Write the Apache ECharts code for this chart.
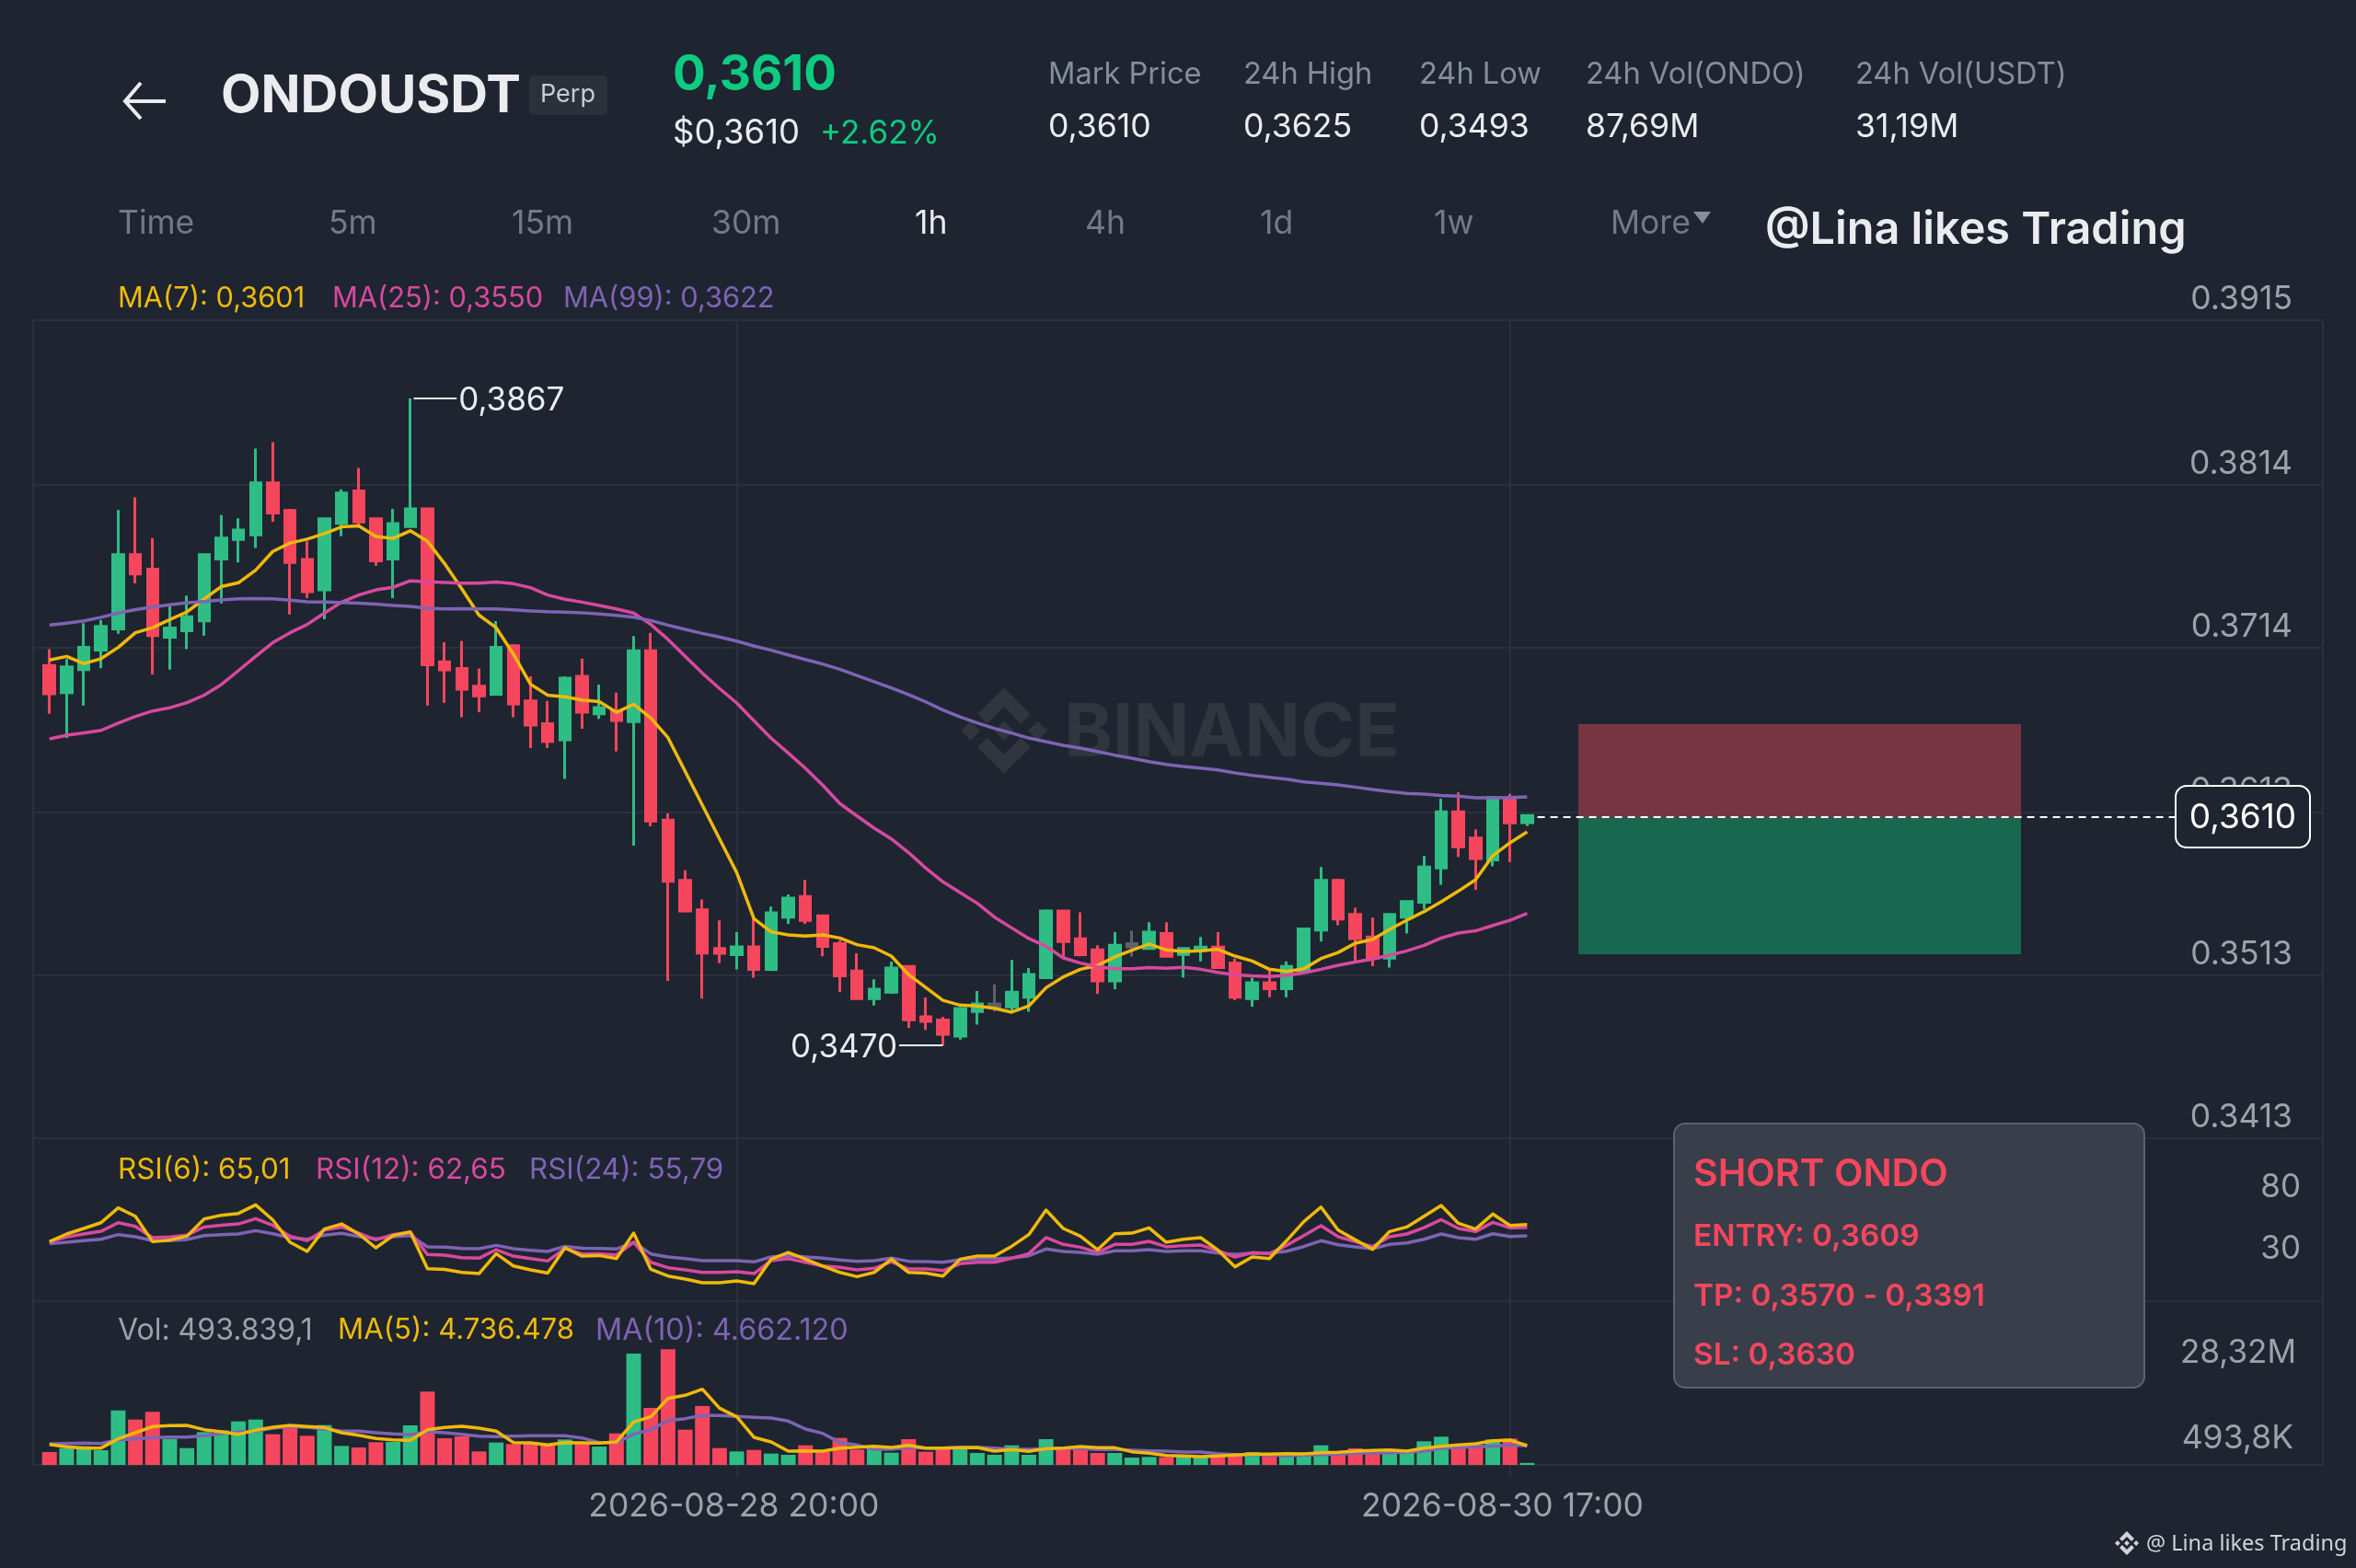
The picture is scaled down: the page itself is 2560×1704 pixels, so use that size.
<!DOCTYPE html>
<html>
<head>
<meta charset="utf-8">
<style>html,body{margin:0;padding:0;background:#1e2530}#c{width:2560px;height:1704px}</style>
<script src="https://cdn.jsdelivr.net/npm/echarts@6/dist/echarts.min.js"></script>
</head>
<body>
<div id="c"></div>
<script>
// [open, close, low, high]
const candles = [
[.37031,.36857,.36734,.37131],[.36865,.37023,.36587,.37071],[.37006,.37142,.36785,.37291],[.37125,.37271,.37014,.37311],
[.37255,.37712,.37226,.37985],[.37712,.37593,.37535,.38063],[.37622,.37214,.36976,.37813],[.37204,.37261,.37006,.37394],
[.37244,.37331,.37131,.3746],[.37305,.37712,.37214,.3772],[.37684,.37813,.37412,.37954],[.37805,.37862,.37664,.37934],
[.37833,.38152,.37753,.38362],[.38152,.37967,.37914,.38402],[.37983,.37664,.37345,.37993],[.37682,.37484,.37444,.37793],
[.37495,.37932,.37315,.37932],[.37904,.3809,.37825,.38112],[.38102,.37912,.37888,.38243],[.37932,.37674,.37644,.37932],
[.37684,.37902,.37444,.37993],[.37884,.37993,.37884,.3867],[.37993,.37035,.36785,.37993],[.37053,.37004,.36803,.37174],
[.37012,.36885,.36714,.37182],[.36904,.36845,.36744,.37012],[.36855,.37142,.36855,.37303],[.37152,.36795,.36714,.37162],
[.36813,.36666,.36524,.36964],[.36674,.36565,.36524,.36813],[.36575,.36954,.36335,.36964],[.36964,.36744,.36643,.37073],
[.36734,.36772,.36704,.36914],[.36752,.36694,.36504,.36865],[.36686,.37121,.35925,.37212],[.37121,.36077,.36044,.37232],
[.36082,.35707,.35096,.36123],[.35713,.35525,.35515,.35775],[.35532,.35267,.34987,.35596],[.35295,.35265,.35205,.35467],
[.35256,.35305,.35166,.35395],[.35305,.35166,.35115,.35478],[.35166,.35514,.35156,.35551],[.35487,.35604,.35446,.35627],
[.35613,.35467,.35446,.35715],[.35495,.35307,.35246,.35495],[.35325,.35126,.35026,.35344],[.35156,.34987,.34987,.35265],
[.34987,.35045,.34945,.35105],[.35026,.35175,.35017,.35214],[.35184,.34857,.34806,.35184],[.34876,.34847,.34795,.34994],
[.34855,.34768,.3470,.34876],[.34757,.34926,.34736,.34936],[.34908,.34955,.34827,.35034],[.34938,.34955,.34908,.35075],
[.34936,.35026,.34915,.35224],[.34996,.35135,.34906,.35175],[.35115,.35525,.35107,.35535],[.35525,.35337,.35239,.35525],
[.35354,.35256,.35247,.35516],[.35286,.35096,.35017,.35314],[.35096,.35314,.35045,.35395],[.35305,.35324,.35245,.35405],
[.35295,.35395,.35295,.35455],[.35386,.35247,.35247,.35455],[.35258,.35294,.35117,.35294],[.35284,.35303,.35216,.35365],
[.35303,.35177,.35177,.35395],[.35205,.34996,.34977,.35233],[.34987,.35085,.34938,.35115],[.35085,.35047,.34996,.35158],
[.35047,.35184,.34996,.35215],[.35156,.35414,.35156,.35414],[.35407,.35713,.35337,.35794],[.35713,.35476,.35437,.35723],
[.35504,.35356,.35215,.35544],[.35365,.35235,.35186,.35484],[.35235,.35504,.35177,.35504],[.35486,.35583,.35386,.35583],
[.35578,.35794,.35535,.35864],[.35789,.36133,.35685,.36214],[.36133,.35918,.35856,.36253],[.35972,.35847,.35655,.36024],
[.35838,.36221,.35798,.3623],[.36214,.36065,.35826,.36244],[.36067,.3611,.36046,.3611]];
const grayCandles = [55,63];

const ma7 = [.37065,.37087,.37043,.37073,.37142,.37232,.37263,.37313,.3736,.3744,.37515,.37539,.37616,.37731,.37783,.37807,.37841,.37882,.37888,.37823,.37811,.37858,.37793,.37656,.37501,.3734,.37263,.37101,.36916,.36849,.36839,.36819,.36809,.36744,.36793,.36708,
.36588,.36381,.36174,.35967,.3576,.35478,.35397,.35378,.35371,.35378,.35359,.35318,.35299,.35248,.35134,.35055,.34976,.34947,.34942,.34928,.34904,.34942,
.35054,.3512,.35167,.3519,.35243,.35284,.35322,.35286,.35276,.3528,.3529,.35248,.35218,.35167,.35154,.35171,.35233,.3527,.35327,.3535,.35412,.35468,.35521,.35581,.35647,.35717,.35864,.35943,.3601];
const ma25 = [.36581,.36603,.36617,.36633,.36678,.36718,.36752,.36772,.36803,.36849,.36914,.37,.37087,.37172,.37232,.37283,.37353,.3742,.37464,.37495,.37511,.37551,.37545,.37541,.37537,.37537,.37543,.37533,.37509,.37464,.37438,.3742,.374,.37378,.37353,.37283,
.37191,.37087,.36984,.3689,.36801,.36692,.36585,.36494,.364,.36297,.36184,.36108,.36033,.35967,.35883,.35788,.35704,.35638,.35572,.35487,.35421,.35356,
.35308,.35237,.35205,.35182,.35171,.35171,.35177,.35173,.35179,.35167,.35148,.35133,.35126,.35122,.3513,.35145,.35167,.35192,.35211,.3523,.35254,.3528,.35314,.35359,.35389,.35403,.35436,.35468,.3551];
const ma99 = [.37279,.37291,.37305,.37327,.37353,.37374,.3739,.37404,.37416,.37424,.37434,.3744,.37442,.3744,.37432,.37422,.3742,.37418,.37414,.37408,.374,.37394,.37382,.37378,.3738,.37378,.37378,.37372,.37366,.37361,.37359,.37355,.37347,.37339,.37327,.37307,
.37279,.37253,.37228,.37206,.37181,.37151,.37125,.37096,.37068,.3704,.37008,.3697,.36931,.36893,.36852,.36808,.36758,.36716,.36679,.36645,.36617,.36586,
.36564,.36541,.36524,.36503,.36481,.36462,.36441,.36424,.36411,.36402,.3639,.36372,.36357,.36345,.36334,.36317,.36308,.36298,.36285,.3627,.36257,.36246,.36242,.36234,.36229,.36219,.36219,.36221,.36225];

const rsi6 = [51.0,57.3,61.8,66.5,78.6,71.8,51.0,52.3,55.5,69.5,72.6,74.1,81.1,68.8,50.5,43.0,61.3,65.5,57.3,46.0,56.0,59.0,28.9,28.4,25.9,24.9,41.2,31.2,28.0,25.4,46.0,39.2,39.7,37.2,58.0,28.4,22.9,20.4,17.4,17.4,18.9,16.7,36.7,42.2,
36.7,31.0,25.9,22.4,25.9,36.7,25.9,25.4,22.9,36.7,39.2,39.2,47.2,56.8,76.8,61.8,55.5,44.5,57.5,58.0,62.3,50.5,53.0,54.3,44.2,30.5,38.5,37.2,51.8,67.3,79.3,60.5,52.5,44.7,59.3,63.0,71.8,80.6,66.0,61.3,73.6,64.3,65.01];
const rsi12 = [51.0,54.8,57.3,59.5,66.5,63.5,54.3,54.8,56.3,63.0,64.5,65.5,69.8,64.3,55.5,51.8,60.5,63.0,58.0,52.5,56.8,58.8,40.5,40.0,38.0,37.5,44.5,39.2,37.2,35.2,45.5,41.0,41.2,40.2,50.5,34.2,29.7,28.0,25.9,25.9,26.4,24.9,35.5,37.2,
34.2,31.2,30.0,28.0,29.2,34.7,28.7,28.7,27.4,33.0,34.2,34.2,37.5,41.2,54.3,48.8,46.5,42.2,48.8,48.8,51.3,46.8,47.8,48.2,43.7,38.5,42.0,41.2,48.0,56.0,64.0,55.0,51.0,47.0,55.0,57.3,62.5,69.0,61.8,59.3,66.8,62.3,62.65];
const rsi24 = [49.3,50.5,51.8,53.0,56.8,55.0,51.8,51.8,52.8,56.0,56.8,57.3,60.0,57.5,54.3,53.0,56.3,57.8,55.3,53.3,55.0,56.0,46.8,46.5,45.5,45.2,48.0,45.2,44.0,43.0,47.2,45.7,45.5,45.0,50.5,41.0,38.5,37.2,35.5,35.5,35.5,34.5,38.5,39.7,
38.5,37.5,36.0,35.0,35.5,37.5,35.0,34.7,34.2,36.2,37.0,37.0,37.7,39.5,45.0,43.0,42.2,40.7,43.5,43.5,44.5,43.0,43.5,43.5,41.7,40.5,41.7,41.5,43.2,47.0,51.8,48.5,46.8,45.2,48.8,50.0,53.0,57.3,54.3,53.0,57.5,55.3,55.79];

// volume in millions
const vol = [3.15,4.13,4.58,3.60,13.36,11.11,12.99,6.38,4.13,8.03,8.48,10.66,11.11,7.51,9.61,7.13,9.76,4.65,4.28,5.56,5.63,9.68,17.94,6.53,6.98,3.30,5.48,5.11,5.63,4.88,6.23,5.26,4.50,7.73,27.25,13.96,28.32,8.63,14.41,4.13,3.30,3.68,2.78,2.48,
4.80,3.23,6.61,3.75,4.13,3.0,6.31,3.23,4.13,4.50,2.93,2.48,4.80,2.48,6.31,3.98,4.13,2.93,2.93,1.80,1.95,1.88,2.03,1.80,2.25,2.78,3.15,2.25,2.25,2.25,4.80,2.78,4.05,3.15,3.15,3.15,5.78,6.91,4.35,4.88,6.23,6.46,0.494];
const volMa5 = [5.03,4.43,4.13,4.13,6.38,7.88,9.38,9.61,9.68,8.63,8.11,7.51,8.48,9.23,9.68,9.38,9.16,7.88,7.28,6.46,6.16,6.01,8.63,9.16,9.46,9.01,8.26,5.48,5.41,4.88,5.48,5.41,5.33,5.63,10.51,11.79,16.29,17.04,18.54,13.89,11.79,6.76,5.63,3.38,
3.45,3.38,4.13,4.35,4.58,4.28,4.80,4.13,4.13,4.20,4.28,3.38,3.75,3.30,3.98,4.13,4.50,4.20,4.20,3.23,2.85,2.33,2.18,2.03,2.18,2.40,2.63,2.63,2.78,2.70,3.00,3.08,3.38,3.53,3.68,3.38,4.13,4.58,4.88,5.18,5.93,6.08,4.736];
const volMa10 = [5.18,5.26,5.33,5.26,6.16,6.38,6.68,6.83,6.83,7.13,7.66,8.03,8.26,9.01,9.38,9.23,8.78,8.26,8.26,7.88,7.58,7.43,8.11,7.88,7.51,7.06,6.91,7.06,7.13,7.13,7.13,6.61,5.48,5.48,7.51,8.63,10.89,11.34,12.09,12.09,11.86,11.64,11.49,10.74,
8.78,7.73,5.48,4.88,3.83,3.83,4.28,4.13,4.13,4.35,4.28,4.13,3.83,3.83,3.98,4.13,3.98,3.75,3.83,3.60,3.45,3.38,3.15,3.15,2.78,2.55,2.55,2.40,2.25,2.40,2.48,2.63,2.85,2.93,3.00,3.08,3.38,4.13,4.28,4.43,4.58,4.88,4.662];

const priceTicks = [0.3413,0.3513,0.3613,0.3714,0.3814,0.3915];
const rsiTicks = [30,80];
const volTickLabels = ['28,32M','493,8K'];
const timeTicks = [40,85];
const timeLabelAt = [39.83,84.56];
const timeLabels = ['2026-08-28 20:00','2026-08-30 17:00'];
const highLabel = 0.3867, lowLabel = 0.3470, lastPrice = 0.3610;
const slZone = [0.36671,0.3610], tpZone = [0.3610,0.35259];
const maLegend = ['MA(7): 0,3601','MA(25): 0,3550','MA(99): 0,3622'];
const rsiLegend = ['RSI(6): 65,01','RSI(12): 62,65','RSI(24): 55,79'];
const volLegend = ['Vol: 493.839,1','MA(5): 4.736.478','MA(10): 4.662.120'];
const statNames = ['Mark Price','24h High','24h Low','24h Vol(ONDO)','24h Vol(USDT)'];
const statValues = ['0,3610','0,3625','0,3493','87,69M','31,19M'];
const intervals = ['Time','5m','15m','30m','1h','4h','1d','1w','More'];
const signal = ['SHORT ONDO','ENTRY: 0,3609','TP: 0,3570 - 0,3391','SL: 0,3630'];

const BG='#1e2530',GRID='#2b313c',UP='#2ebd85',DOWN='#f6465d',AXIS='#9da1ab',MUTED='#848e9c',
 YEL='#f0b90b',PINK='#d9489f',PUR='#7f63b5',WHITE='#eaecef',FONT='Inter';
const LOGO='M38.73,53.2,63.3,28.63l24.6,24.6,14.3-14.31L63.3,0,24.42,38.88ZM0,63.31l14.31-14.31,14.31,14.31-14.31,14.31ZM38.73,73.41,63.3,98l24.6-24.6,14.31,14.29h0L63.3,126.61,24.42,87.73l0-.02ZM98.3,63.31l14.31-14.31,14.31,14.31-14.31,14.31ZM77.83,63.3h0L63.3,48.78,52.57,59.51h0l-1.23,1.23-2.54,2.54h0l0,0,14.5,14.51,14.52-14.52,0,0Z';
echarts.graphic.registerShape('binanceLogo',echarts.graphic.extendPath(LOGO,{}));

const XMIN=-0.95,XMAX=132.31;
const idx=a=>a.map((v,i)=>[i,v]);
const t=(x,y,text,size,fill,weight,align,z,font)=>({type:'text',x,y,silent:true,z:z==null?100:z,
  style:{text,fontSize:size,fontFamily:font||FONT,fontWeight:weight||400,fill,align:align||'left',verticalAlign:'middle'}});

const statX=[1139,1351,1542,1723,2016];
const intervalX=[128,357,556,773,994,1179,1369,1558,1750];
const graphics=[
 // watermark
 {type:'binanceLogo',z:0,silent:true,x:1044,y:747,scaleX:94/126.61,scaleY:94/126.61,style:{fill:'#30353f'}},
 t(1156,798,'BINANCE',80,'#30353f',700,'left',0),
 // header
 {type:'polyline',z:100,silent:true,shape:{points:[[153,90],[136,110],[153,129]]},style:{stroke:WHITE,lineWidth:4,fill:null}},
 {type:'line',z:100,silent:true,shape:{x1:136,y1:110,x2:180,y2:110},style:{stroke:WHITE,lineWidth:4}},
 t(240,105,'ONDOUSDT',56.5,WHITE,700),
 {type:'rect',z:99,silent:true,shape:{x:575,y:82,width:85,height:43,r:5},style:{fill:'#2b303b'}},
 t(587,103,'Perp',27,'#c9ccd2',400),
 t(731,82,'0,3610',53,'#0ecb81',700),
 t(731,145,'$0,3610',36.5,WHITE,400),
 t(891,145,'+2.62%',35,'#0ecb81',400),
 ...statNames.map((s,i)=>t(statX[i],81,s,32.6,MUTED)),
 ...statValues.map((s,i)=>t(statX[i],138,s,35.6,WHITE)),
 ...intervals.map((s,i)=>t(intervalX[i],243,s,35.5,s==='1h'?WHITE:'#737a86')),
 {type:'polygon',z:100,silent:true,shape:{points:[[1840,230],[1859,230],[1850,243]]},style:{fill:'#848e9c'}},
 t(1918,250,'@Lina likes Trading',48.6,WHITE,600),
 // legends
 t(128,325,maLegend[0],30.8,YEL),t(361,325,maLegend[1],30.8,PINK),t(612,325,maLegend[2],30.8,PUR),
 t(128,1272,rsiLegend[0],31.4,YEL),t(343,1272,rsiLegend[1],31.4,PINK),t(575,1272,rsiLegend[2],31.4,PUR),
 t(128,1446,volLegend[0],32,AXIS),t(367,1446,volLegend[1],31.2,YEL),t(647,1446,volLegend[2],32.3,PUR),
 // volume axis labels
 t(2495,1470,volTickLabels[0],35,AXIS,400,'right'),t(2492,1563,volTickLabels[1],35.5,AXIS,400,'right'),
 // last price box
 {type:'rect',z:100,silent:true,shape:{x:2364,y:854,width:146,height:67,r:12},style:{fill:BG,stroke:'#ffffff',lineWidth:2}},
 t(2437,889,'0,3610',37,'#ffffff',400,'center',101),
 // signal panel
 {type:'rect',z:100,silent:true,shape:{x:1819,y:1221,width:511,height:287,r:12},style:{fill:'#383e4a',stroke:'#5d626d',lineWidth:2}},
 t(1840,1277,signal[0],41,'#f6465d',600,'left',101),
 t(1840,1344,signal[1],33.3,'#f6465d',600,'left',101),
 t(1840,1409,signal[2],33.3,'#f6465d',600,'left',101),
 t(1840,1473,signal[3],33.3,'#f6465d',600,'left',101),
 // credit
 {type:'binanceLogo',z:100,silent:true,x:2298,y:1664,scaleX:26/126.61,scaleY:26/126.61,style:{fill:'#d0d3d8'}},
 t(2332,1678,'@ Lina likes Trading',23.5,'#d0d3d8',400,'left',100,'Noto Sans')
];

const grids=[{left:36,right:36,top:348,height:889},{left:36,right:36,top:1237,height:177},{left:36,right:36,top:1414,height:191}];
const xAxis=[0,1,2].map(g=>({type:'value',gridIndex:g,min:XMIN,max:XMAX,
  axisLine:{show:g===1,onZero:false,lineStyle:{color:GRID,width:2}},
  axisTick:{show:false,customValues:g===2?timeTicks:[XMIN,...timeTicks,XMAX]},
  splitLine:{show:true,lineStyle:{color:GRID,width:2}},
  axisLabel:g===2?{show:true,customValues:timeLabelAt,margin:14,color:AXIS,fontSize:35.5,fontFamily:FONT,
     formatter:v=>timeLabels[timeLabelAt.indexOf(v)]||''}:{show:false}}));
const labelBase={inside:true,verticalAlign:'bottom',lineHeight:46,color:AXIS,fontFamily:FONT};
const yAxis=[
 {type:'value',gridIndex:0,position:'right',min:0.3413,max:0.3915,
  axisLine:{show:false},axisTick:{show:false,customValues:priceTicks},
  splitLine:{show:true,lineStyle:{color:GRID,width:2}},
  axisLabel:{...labelBase,fontSize:35.5,customValues:priceTicks,margin:33,formatter:v=>v.toFixed(4)}},
 {type:'value',gridIndex:1,position:'right',min:2.4,max:135.5,
  axisLine:{show:false},axisTick:{show:false,customValues:rsiTicks},splitLine:{show:false},
  axisLabel:{...labelBase,fontSize:35,lineHeight:40,customValues:rsiTicks,margin:24,formatter:v=>String(v)}},
 {type:'value',gridIndex:2,position:'right',min:-2.93,max:40.09,
  axisLine:{show:false},axisTick:{show:false,customValues:[0]},
  splitLine:{show:true,lineStyle:{color:GRID,width:2}},
  axisLabel:{show:false}}
];
const line=(name,data,color,g,width)=>({name,type:'line',xAxisIndex:g,yAxisIndex:g,data:idx(data),showSymbol:false,symbol:'none',
  clip:false,lineStyle:{color,width:width||3.5,join:'round'},itemStyle:{color},silent:true,z:g===2?4:3});

const candleData=candles.map((c,i)=>{
  const v=[i,...c];
  return grayCandles.includes(i)?{value:v,itemStyle:{color:'#5c616a',color0:'#5c616a',borderColor:'#5c616a',borderColor0:'#5c616a'}}:{value:v};
});
const volData=vol.map((v,i)=>({value:[i,v],itemStyle:{color:candles[i][1]>=candles[i][0]?UP:DOWN}}));

const calloutLabel={show:true,color:WHITE,fontFamily:FONT,fontSize:35,distance:2,offset:[0,2]};
const ma7Series=line('MA7',ma7,YEL,0);
ma7Series.markArea={silent:true,itemStyle:{opacity:1},data:[
 [{coord:[88.98,slZone[0]],itemStyle:{color:'#773543',opacity:1}},{coord:[114.74,slZone[1]]}],
 [{coord:[88.98,tpZone[0]],itemStyle:{color:'#18684f',opacity:1}},{coord:[114.74,tpZone[1]]}]
]};
ma7Series.markLine={silent:true,symbol:'none',animation:false,precision:4,data:[
 [{coord:[21.2,highLabel],lineStyle:{color:'#eaecef',width:2,type:'solid'},label:{...calloutLabel,position:'end',formatter:'0,3867'}},{coord:[23.7,highLabel]}],
 [{coord:[52,lowLabel],lineStyle:{color:'#eaecef',width:2,type:'solid'},label:{...calloutLabel,position:'end',formatter:'0,3470'}},{coord:[49.45,lowLabel]}],
 [{coord:[86.6,lastPrice],lineStyle:{color:'#ffffff',width:2,type:[8,6]},label:{show:false}},{coord:[123.8,lastPrice]}]
]};
const volMa10Series=line('VolMA10',volMa10,PUR,2);
volMa10Series.markLine={silent:true,symbol:'none',animation:false,label:{show:false},
 lineStyle:{color:GRID,width:2,type:'solid'},data:[
 [{coord:[XMIN,0]},{coord:[XMIN,40.09]}],
 [{coord:[XMAX,0]},{coord:[XMAX,40.09]}]
]};

const option={
 animation:false,backgroundColor:BG,
 grid:grids,xAxis,yAxis,graphic:{elements:graphics},
 series:[
  {name:'Candles',type:'candlestick',xAxisIndex:0,yAxisIndex:0,data:candleData,barWidth:12,silent:true,z:2,
   encode:{x:0,y:[1,2,3,4]},
   itemStyle:{color:UP,color0:DOWN,borderColor:UP,borderColor0:DOWN,borderColorDoji:UP,borderWidth:3}},
  ma7Series,line('MA25',ma25,PINK,0),line('MA99',ma99,PUR,0),
  line('RSI24',rsi24,PUR,1),line('RSI12',rsi12,PINK,1),line('RSI6',rsi6,YEL,1),
  {name:'Vol',type:'bar',xAxisIndex:2,yAxisIndex:2,data:volData,barWidth:16,silent:true,z:2},
  volMa10Series,line('VolMA5',volMa5,YEL,2)
 ]
};
const chart=echarts.init(document.getElementById('c'),null,{renderer:'canvas',width:2560,height:1704});
chart.setOption(option);
</script>
</body>
</html>
